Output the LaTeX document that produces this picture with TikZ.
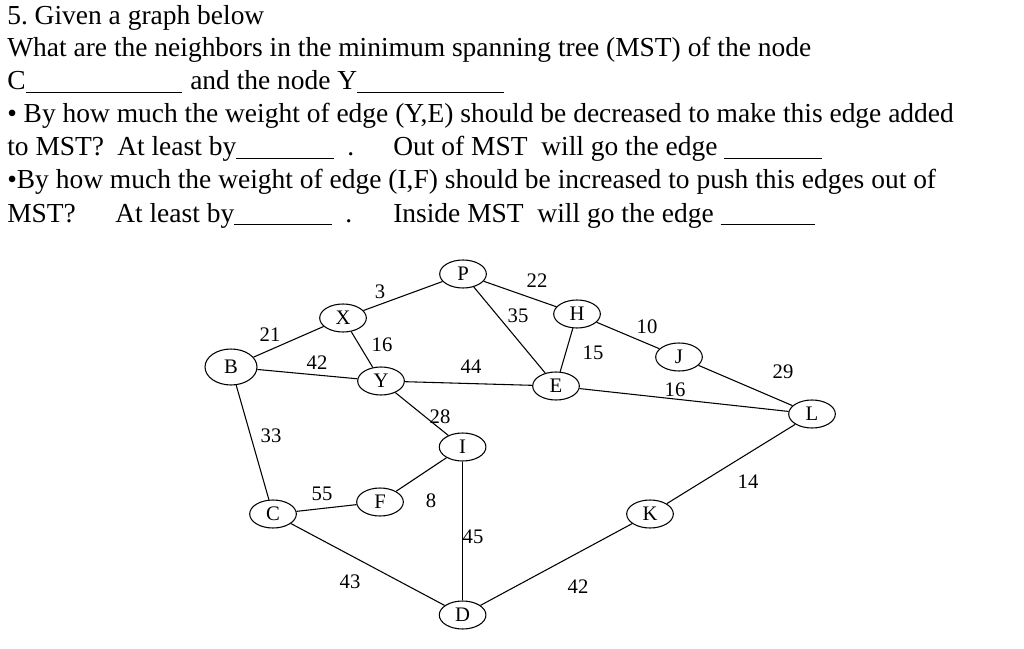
\documentclass[tikz,border=0pt]{standalone}
\usepackage{fontspec}
\setmainfont{Liberation Serif}
\usepackage{tikz}
\usetikzlibrary{shapes.geometric}
\frenchspacing

\newcommand{\fillin}[1]{\rule[-2.4pt]{#1}{0.9pt}}

\begin{document}
\begin{tikzpicture}[
    x=0.75pt, y=-0.75pt,
    txt/.style  = {anchor=base west, inner sep=0pt,
                   font=\fontsize{20.6pt}{24pt}\selectfont},
    vtx/.style  = {draw, ellipse, line width=0.8pt, inner sep=0pt,
                   minimum width=35pt, minimum height=21pt,
                   font=\fontsize{15.5pt}{17pt}\selectfont},
    bigvtx/.style = {vtx, minimum width=39pt, minimum height=27pt},
    wt/.style   = {inner sep=0pt, font=\fontsize{15.5pt}{17pt}\selectfont},
    edge/.style = {line width=0.8pt},
  ]
    \useasboundingbox (0,0) rectangle (1024,649);

    % --- question text ---
    \node[txt] (q1)  at (7,25)    {5. Given a graph below};
    \node[txt] (q2)  at (7,57)    {What are the neighbors in the minimum spanning tree (MST) of the node};
    \node[txt] (q3a) at (7,90)    {C\fillin{117pt}};
    \node[txt] (q3b) at (190,90)  {and the node Y\fillin{110pt}};
    \node[txt] (q4)  at (7,123)   {• By how much the weight of edge (Y,E) should be decreased to make this edge added};
    \node[txt] (q5a) at (7,156)   {to MST?};
    \node[txt] (q5b) at (117,156) {At least by\fillin{73pt}\ \ .};
    \node[txt] (q5c) at (393,156) {Out of MST\ \ will go the edge \fillin{73pt}};
    \node[txt] (q6)  at (7,189)   {•By how much the weight of edge (I,F) should be increased to push this edges out of};
    \node[txt] (q7a) at (7,222)   {MST?};
    \node[txt] (q7b) at (115,222) {At least by\fillin{73pt}\ \ .};
    \node[txt] (q7c) at (393,222) {Inside MST\ \ will go the edge \fillin{71pt}};

    % --- vertices ---
    \node[bigvtx] (B) at (231,367) {B};
    \node[vtx] (X) at (343,318) {X};
    \node[vtx] (Y) at (381,381) {Y};
    \node[vtx] (P) at (463,274) {\raisebox{-4pt}{P}};
    \node[vtx] (H) at (577,314) {H};
    \node[vtx] (E) at (556,386) {E};
    \node[vtx] (J) at (679,357) {J};
    \node[vtx] (L) at (812,414) {\raisebox{-4pt}{L}};
    \node[vtx] (I) at (462.6,447) {I};
    \node[vtx] (F) at (380,502) {F};
    \node[vtx] (C) at (273,514) {C};
    \node[vtx] (D) at (462.6,615) {\raisebox{-4pt}{D}};
    \node[vtx] (K) at (650,514) {K};

    % --- edges ---
    \draw[edge] (B) -- (X);   \draw[edge] (B) -- (Y);   \draw[edge] (B) -- (C);
    \draw[edge] (X) -- (P);   \draw[edge] (X) -- (Y);
    \draw[edge] (Y) -- (E);   \draw[edge] (Y) -- (I);
    \draw[edge] (P) -- (H);   \draw[edge] (P) -- (E);
    \draw[edge] (H) -- (E);   \draw[edge] (H) -- (J);
    \draw[edge] (J) -- (L);   \draw[edge] (E) -- (L);
    \draw[edge] (L) -- (K);   \draw[edge] (K) -- (D);
    \draw[edge] (I) -- (F);   \draw[edge] (I) -- (D);
    \draw[edge] (C) -- (F);   \draw[edge] (C) -- (D);

    % --- weights ---
    \node[wt] (wBX) at (270,335) {21};
    \node[wt] (wBY) at (317,363) {42};
    \node[wt] (wBC) at (271,436) {33};
    \node[wt] (wXP) at (380,292) {3};
    \node[wt] (wXY) at (382,345) {16};
    \node[wt] (wYE) at (471,367) {44};
    \node[wt] (wYI) at (440,417) {28};
    \node[wt] (wPH) at (537,281) {22};
    \node[wt] (wPE) at (518,316) {35};
    \node[wt] (wHE) at (593,353) {15};
    \node[wt] (wHJ) at (647,327) {10};
    \node[wt] (wEL) at (675,390) {16};
    \node[wt] (wJL) at (783,372) {29};
    \node[wt] (wLK) at (748,482) {14};
    \node[wt] (wKD) at (578,587) {42};
    \node[wt] (wCF) at (322,494) {55};
    \node[wt] (wIF) at (431,501) {8};
    \node[wt] (wID) at (473,537) {45};
    \node[wt] (wCD) at (350,582) {43};
\end{tikzpicture}
\end{document}
